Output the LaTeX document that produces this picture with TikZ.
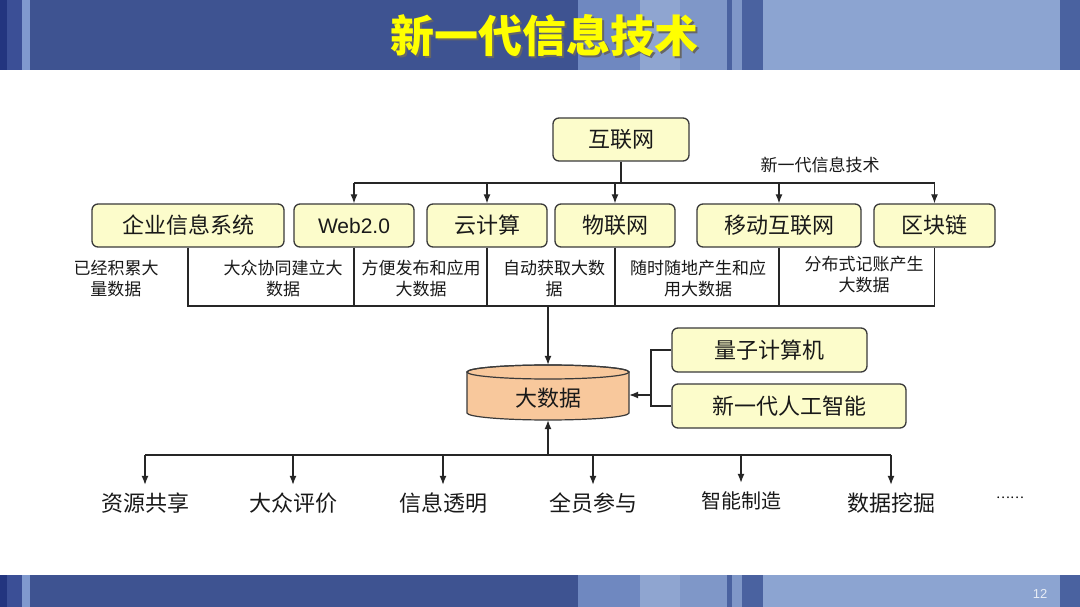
\documentclass[tikz,border=0pt]{standalone}
\usepackage{fontspec}
\setmainfont{Noto Sans CJK SC}
\newfontfamily\latinfont{Liberation Sans}
\usetikzlibrary{arrows.meta}
\definecolor{navy}{HTML}{23357F}
\definecolor{bandA}{HTML}{3B4F96}
\definecolor{bandL}{HTML}{8099CE}
\definecolor{bandM}{HTML}{3E5391}
\definecolor{bandB}{HTML}{6F88C0}
\definecolor{bandC}{HTML}{8FA5D0}
\definecolor{bandD}{HTML}{7F97C8}
\definecolor{bandE}{HTML}{4A62A0}
\definecolor{bandF}{HTML}{8CA4D1}
\definecolor{boxfill}{HTML}{FCFCCB}
\definecolor{boxline}{HTML}{3A3A3A}
\definecolor{cylfill}{HTML}{F8C89C}
\definecolor{titleyellow}{HTML}{FFFF00}
\newcommand\bandstripes[2]{%
  \fill[navy] (0,#1) rectangle (7,#2);
  \fill[bandA] (7,#1) rectangle (22,#2);
  \fill[bandL] (22,#1) rectangle (30,#2);
  \fill[bandM] (30,#1) rectangle (578,#2);
  \fill[bandB] (578,#1) rectangle (640,#2);
  \fill[bandC] (640,#1) rectangle (680,#2);
  \fill[bandD] (680,#1) rectangle (727,#2);
  \fill[bandE] (727,#1) rectangle (732,#2);
  \fill[bandD] (732,#1) rectangle (742,#2);
  \fill[bandE] (742,#1) rectangle (763,#2);
  \fill[bandF] (763,#1) rectangle (1060,#2);
  \fill[bandE] (1060,#1) rectangle (1080,#2);
}
\begin{document}
\begin{tikzpicture}[x=1pt,y=-1pt,
  tbox/.style={draw=boxline, fill=boxfill, rounded corners=6pt, line width=1.3pt,
    minimum height=43, inner sep=0pt, text=black!90, font=\fontsize{22}{26}\selectfont},
  note/.style={align=center, inner sep=0pt, text=black!90, font=\fontsize{17}{21}\selectfont},
  outtext/.style={inner sep=0pt, minimum height=36, text=black!90, font=\fontsize{22}{26}\selectfont},
  conn/.style={line width=1.3pt, draw=black!85},
  arr/.style={conn, -{Latex[length=9pt,width=7pt]}}
]
\useasboundingbox (0,0) rectangle (1080,607);
\fill[white] (0,0) rectangle (1080,607);
\bandstripes{0}{70}
\bandstripes{575}{607}

% title
\node[text=black!60, font=\fontsize{44}{48}\selectfont\bfseries] (titleshadow) at (546.5,37.5) {新一代信息技术};
\node[text=titleyellow, font=\fontsize{44}{48}\selectfont\bfseries] (title) at (544.5,35.5) {新一代信息技术};
\node[text=white!80!bandF, font=\latinfont\fontsize{13}{15}\selectfont] (pagenum) at (1040,594) {12};

% nodes
\node[tbox, minimum width=136] (inet) at (621,139.5) {互联网};
\node[note] (ntech) at (820,165) {新一代信息技术};
\node[tbox, minimum width=192] (ent) at (188,225.5) {企业信息系统};
\node[tbox, minimum width=120, font=\latinfont\fontsize{21}{25}\selectfont] (web) at (354,225.5) {Web2.0};
\node[tbox, minimum width=120] (cloud) at (487,225.5) {云计算};
\node[tbox, minimum width=120] (iot) at (615,225.5) {物联网};
\node[tbox, minimum width=164] (mob) at (779,225.5) {移动互联网};
\node[tbox, minimum width=121] (chain) at (934.5,225.5) {区块链};

\node[note] (n1) at (116,278.5) {已经积累大\\量数据};
\node[note] (n2) at (283,278.5) {大众协同建立大\\数据};
\node[note] (n3) at (421,278.5) {方便发布和应用\\大数据};
\node[note] (n4) at (554,278.5) {自动获取大数\\据};
\node[note] (n5) at (698,278.5) {随时随地产生和应\\用大数据};
\node[note] (n6) at (864,275) {分布式记账产生\\大数据};

% big data cylinder
\node[inner sep=0pt, minimum width=162, minimum height=55] (bigdata) at (548,392.5) {};
\filldraw[fill=cylfill, draw=boxline, line width=1.2pt]
  (467,372) -- (467,413) arc[start angle=180, end angle=0, x radius=81, y radius=7]
  -- (629,372) arc[start angle=0, end angle=-180, x radius=81, y radius=7] -- cycle;
\draw[draw=boxline, line width=1.2pt] (548,372) ellipse [x radius=81, y radius=7];
\node[text=black!90, font=\fontsize{22}{26}\selectfont] (bigdatalabel) at (548,398) {大数据};

\node[tbox, minimum width=195, minimum height=44] (quantum) at (769.5,350) {量子计算机};
\node[tbox, minimum width=234, minimum height=44] (ai) at (789,406) {新一代人工智能};

% outputs
\node[outtext] (o1) at (145,503) {资源共享};
\node[outtext] (o2) at (293,503) {大众评价};
\node[outtext] (o3) at (443,503) {信息透明};
\node[outtext] (o4) at (593,503) {全员参与};
\node[outtext, font=\fontsize{20}{24}\selectfont] (o5) at (741,501) {智能制造};
\node[outtext] (o6) at (891,503) {数据挖掘};
\node[inner sep=0pt, font=\fontsize{13}{15}\selectfont] (dots) at (1010,498) {……};

% connectors top
\coordinate (topbus) at (621,183);
\draw[conn] (inet.south) -- (topbus);
\draw[conn] (web.north |- topbus) -- (chain.north |- topbus);
\foreach \n in {web,cloud,iot,mob,chain}{
  \draw[arr] (\n.north |- topbus) -- (\n.north);
}
% lower bus
\coordinate (midbus) at (548,306);
\draw[conn] (ent.south) -- (ent.south |- midbus) -- (chain.south |- midbus) -- (chain.south);
\foreach \n in {web,cloud,iot,mob}{
  \draw[conn] (\n.south) -- (\n.south |- midbus);
}
\draw[arr] (midbus) -- (bigdata.north);
% side bracket
\coordinate (br) at (651,395);
\draw[conn] (quantum.west) -- (quantum.west -| br) -- (ai.west -| br) -- (ai.west);
\draw[arr] (br) -- (bigdata.east |- br);
% bottom bus
\coordinate (botbus) at (548,455);
\draw[arr] (botbus) -- (bigdata.south);
\draw[conn] (o1.north |- botbus) -- (o6.north |- botbus);
\foreach \n in {o1,o2,o3,o4,o5,o6}{
  \draw[arr] (\n.north |- botbus) -- (\n.north);
}
\end{tikzpicture}
\end{document}
